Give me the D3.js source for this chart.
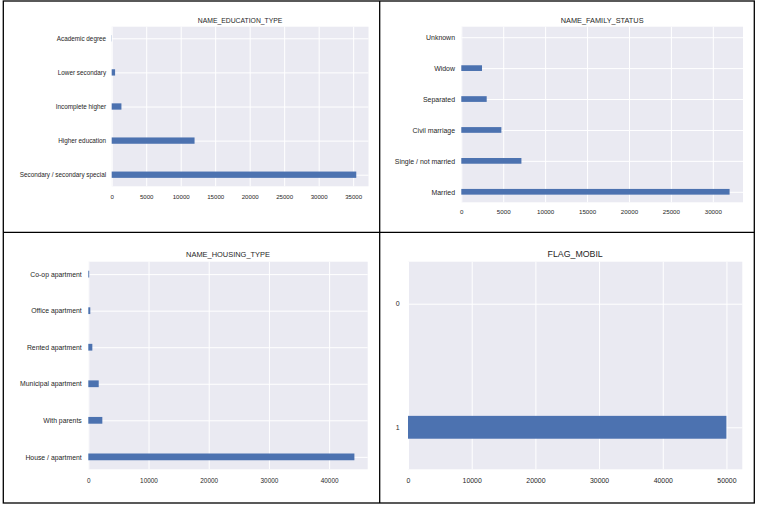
<!DOCTYPE html>
<html><head><meta charset="utf-8">
<script src="https://cdn.jsdelivr.net/npm/d3@7/dist/d3.min.js"></script>
<style>
body{margin:0;background:#fff}
svg{display:block}
text{font-family:"Liberation Sans",Arial,sans-serif;fill:#262626}
</style>
</head><body>
<svg id="c" width="757" height="507"></svg>
<script>
// ---- data (bottom-to-top order, as value counts) ----
const educationCategories = ["Secondary / secondary special","Higher education","Incomplete higher","Lower secondary","Academic degree"];
const educationValues = [35450, 12010, 1410, 490, 30];
const educationTicks = [0,5000,10000,15000,20000,25000,30000,35000];

const familyCategories = ["Married","Single / not married","Civil marriage","Separated","Widow","Unknown"];
const familyValues = [32000, 7170, 4780, 3030, 2470, 2];
const familyTicks = [0,5000,10000,15000,20000,25000,30000];

const housingCategories = ["House / apartment","With parents","Municipal apartment","Rented apartment","Office apartment","Co-op apartment"];
const housingValues = [44200, 2330, 1730, 670, 330, 150];
const housingTicks = [0,10000,20000,30000,40000];

const mobilCategories = ["1","0"];
const mobilValues = [49990, 0];
const mobilTicks = [0,10000,20000,30000,40000,50000];

const titles = ["NAME_EDUCATION_TYPE","NAME_FAMILY_STATUS","NAME_HOUSING_TYPE","FLAG_MOBIL"];

// ---- layout ----
const svg = d3.select("#c");
svg.append("rect").attr("width",757).attr("height",507).attr("fill","#fff");

const layouts = [
  {l:111.7,r:368.5,t:26.7,b:186.3,titleY:20.7,titleFs:6.8,yFs:6.35,xFs:6.1,xPad:7.9,yPad:5.6},
  {l:461.3,r:743,t:26.7,b:202.3,titleY:20.7,titleFs:7.35,yFs:6.95,xFs:6.2,xPad:6.9,yPad:6.3},
  {l:88.3,r:367.7,t:261.7,b:469.3,titleY:254,titleFs:7.45,yFs:6.85,xFs:6.4,xPad:9.2,yPad:6.6},
  {l:408,r:742.3,t:261.7,b:469.3,titleY:254,titleFs:8.8,yFs:7,xFs:6.9,xPad:9,yPad:8.3}
];
const datasets = [
  [educationCategories, educationValues, educationTicks],
  [familyCategories, familyValues, familyTicks],
  [housingCategories, housingValues, housingTicks],
  [mobilCategories, mobilValues, mobilTicks]
];

const BAR = "#4C72B0", BG = "#EAEAF2";
const PADU = 0.34, BARH = 0.185;

datasets.forEach((ds, k) => {
  const [cats, vals, ticks] = ds;
  const L = layouts[k];
  const n = cats.length;
  const x = d3.scaleLinear().domain([0, d3.max(vals)*1.05]).range([L.l, L.r]);
  const y = d3.scaleLinear().domain([-PADU, n-1+PADU]).range([L.b, L.t]);
  const g = svg.append("g");
  g.append("rect").attr("x",L.l).attr("y",L.t).attr("width",L.r-L.l).attr("height",L.b-L.t).attr("fill",BG);

  // grid via axes
  const gx = g.append("g").attr("transform",`translate(0,${L.b})`)
    .call(d3.axisBottom(x).tickValues(ticks).tickSize(-(L.b-L.t)).tickFormat(""));
  gx.select(".domain").remove();
  gx.selectAll("line").attr("stroke","#fff").attr("stroke-width",1);
  const gy = g.append("g").attr("transform",`translate(${L.l},0)`)
    .call(d3.axisLeft(y).tickValues(d3.range(n)).tickSize(-(L.r-L.l)).tickFormat(""));
  gy.select(".domain").remove();
  gy.selectAll("line").attr("stroke","#fff").attr("stroke-width",1);

  // bars
  const hpx = Math.abs(y(0) - y(BARH));
  g.selectAll(".bar").data(vals).join("rect")
    .attr("x", x(0))
    .attr("y", (d,i) => y(i) - hpx/2)
    .attr("width", d => x(d) - x(0))
    .attr("height", hpx)
    .attr("fill", BAR);

  // tick labels
  const ax = g.append("g").attr("transform",`translate(0,${L.b})`)
    .call(d3.axisBottom(x).tickValues(ticks).tickSize(0).tickPadding(L.xPad).tickFormat(d3.format("d")));
  ax.select(".domain").remove();
  ax.selectAll("text").attr("font-size",L.xFs).attr("font-family",'"Liberation Sans",Arial,sans-serif').attr("fill","#262626");
  const ay = g.append("g").attr("transform",`translate(${L.l},0)`)
    .call(d3.axisLeft(y).tickValues(d3.range(n)).tickSize(0).tickPadding(L.yPad).tickFormat(i => cats[i]));
  ay.select(".domain").remove();
  ay.selectAll("text").attr("font-size",L.yFs).attr("font-family",'"Liberation Sans",Arial,sans-serif').attr("fill","#262626");

  g.append("text").attr("x",(L.l+L.r)/2).attr("y",L.titleY + 0.36*L.titleFs)
    .attr("text-anchor","middle").attr("font-size",L.titleFs).text(titles[k]);
});

// table frame
const frame = svg.append("g").attr("stroke","#000").attr("stroke-width",1.3).attr("fill","none");
frame.append("rect").attr("x",3.3).attr("y",1).attr("width",751).attr("height",502);
frame.append("line").attr("x1",379.7).attr("x2",379.7).attr("y1",1).attr("y2",503);
frame.append("line").attr("x1",3.3).attr("x2",754.3).attr("y1",232.3).attr("y2",232.3);
</script>
</body></html>
